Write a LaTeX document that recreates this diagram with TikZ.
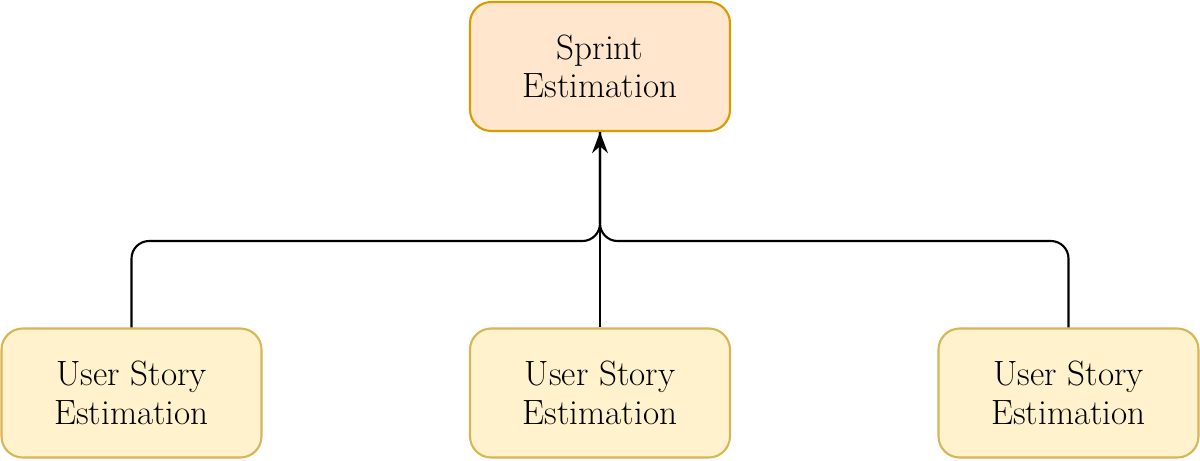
\documentclass[tikz,border=0pt]{standalone}
\usetikzlibrary{positioning,arrows.meta}
\definecolor{sprintfill}{HTML}{FFE6CC}
\definecolor{sprintline}{HTML}{D79B00}
\definecolor{storyfill}{HTML}{FFF2CC}
\definecolor{storyline}{HTML}{D6B656}
\begin{document}
\begin{tikzpicture}[x=0.02cm,y=-0.02cm,
    box/.style={draw, rounded corners=12pt, line width=1.2pt, minimum width=5.2cm, minimum height=2.58cm,
      align=center, font=\fontsize{20}{22}\selectfont},
    sprint/.style={box, fill=sprintfill, draw=sprintline},
    story/.style={box, fill=storyfill, draw=storyline},
    link/.style={line width=1.2pt, rounded corners=10pt}]
    \useasboundingbox (0,0) rectangle (1200,460);
    \node[sprint] (sprint) at (600,66.5) {Sprint\\Estimation};
    \node[story] (s1) at (131.5,393) {User Story\\Estimation};
    \node[story] (s2) at (600,393) {User Story\\Estimation};
    \node[story] (s3) at (1068.5,393) {User Story\\Estimation};
    \coordinate (join) at (600,241);
    \draw[link] (s1.north) |- (join) -- (sprint.south);
    \draw[link] (s3.north) |- (join) -- (sprint.south);
    \draw[link,-{Stealth[length=12pt,width=9pt]}] (s2.north) -- (sprint.south);
\end{tikzpicture}
\end{document}
